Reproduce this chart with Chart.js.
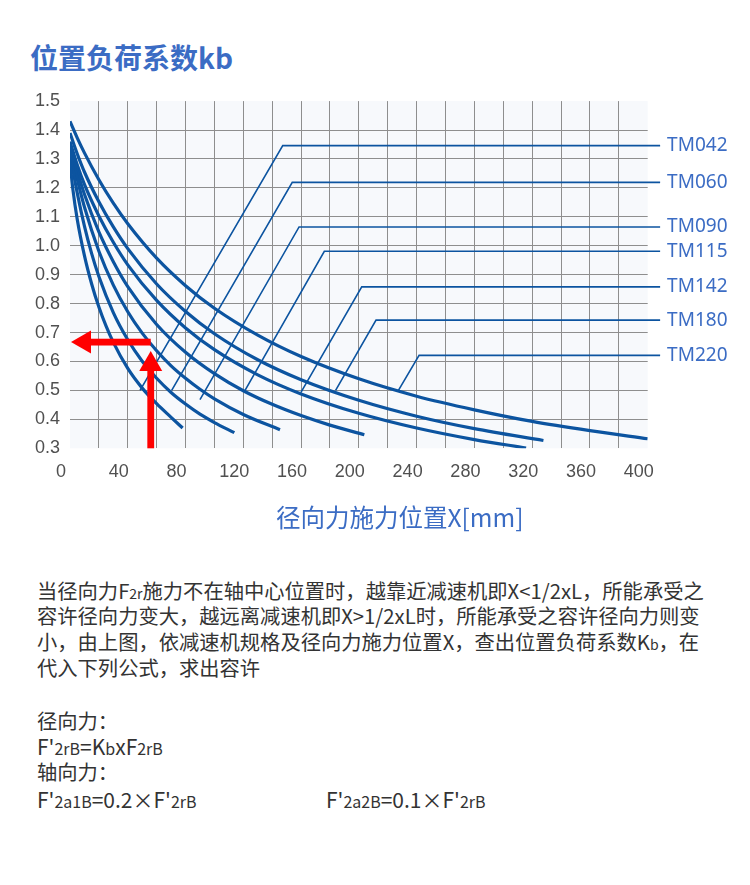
<!DOCTYPE html>
<html>
<head>
<meta charset="utf-8">
<script src="https://cdn.jsdelivr.net/npm/chart.js@4.4.0/dist/chart.umd.min.js"></script>
<style>
body { margin: 0; width: 750px; height: 885px; background: #fff; position: relative; overflow: hidden;
       font-family: "Noto Sans CJK SC", "Noto Sans", sans-serif; }
.t { position: absolute; white-space: nowrap; }
#title { left: 30px; top: 39px; font-size: 28px; font-weight: bold; color: #3b6cc4; line-height: 36px; }
#xtitle { left: 276px; top: 502px; font-size: 24.5px; color: #3b6cc4; line-height: 30px; }
.p { left: 37px; font-size: 20.3px; color: #333; line-height: 26px; }
.p small { font-size: 14px; }
.f { font-size: 21px; }
.f small { font-size: 16px; }
#chartBox { position: absolute; left: 0; top: 80px; width: 750px; height: 420px; }
</style>
</head>
<body>
<div class="t" id="title">位置负荷系数kb</div>
<div id="chartBox"><canvas id="kbChart" width="750" height="420"></canvas></div>
<div class="t" id="xtitle">径向力施力位置X[mm]</div>

<div class="t p" style="top:577px">当径向力F<small>2r</small>施力不在轴中心位置时，越靠近减速机即X&lt;1/2xL，所能承受之</div>
<div class="t p" style="top:602px">容许径向力变大，越远离减速机即X&gt;1/2xL时，所能承受之容许径向力则变</div>
<div class="t p" style="top:628px">小，由上图，依减速机规格及径向力施力位置X，查出位置负荷系数K<small>b</small>，在</div>
<div class="t p" style="top:654px">代入下列公式，求出容许</div>

<div class="t p" style="top:707px">径向力：</div>
<div class="t p f" style="top:733px">F'<small>2rB</small>=K<small>b</small>xF<small>2rB</small></div>
<div class="t p" style="top:758px">轴向力：</div>
<div class="t p f" style="top:786px">F'<small>2a1B</small>=0.2×F'<small>2rB</small></div>
<div class="t p f" style="top:786px;left:326px">F'<small>2a2B</small>=0.1×F'<small>2rB</small></div>

<script>
// gearbox sizes, smallest to largest curve
const models = ['TM042', 'TM060', 'TM090', 'TM115', 'TM142', 'TM180', 'TM220'];

// curves: X [mm] -> Kb
const xTM042 = [0, 2, 5, 10, 15, 20, 25, 30, 40, 50, 60, 70, 78];
const yTM042 = [1.29, 1.195, 1.092, 0.966, 0.868, 0.788, 0.722, 0.666, 0.576, 0.508, 0.454, 0.407, 0.370];
const xTM060 = [0, 2, 5, 10, 15, 20, 30, 40, 50, 60, 70, 80, 90, 100, 113.8];
const yTM060 = [1.325, 1.264, 1.183, 1.068, 0.973, 0.894, 0.769, 0.675, 0.601, 0.542, 0.493, 0.453, 0.418, 0.389, 0.354];
const xTM090 = [0, 5, 10, 20, 30, 40, 50, 60, 70, 80, 90, 100, 120, 145.4];
const yTM090 = [1.344, 1.231, 1.134, 0.981, 0.864, 0.772, 0.698, 0.637, 0.585, 0.542, 0.504, 0.471, 0.417, 0.364];
const xTM115 = [0, 5, 10, 20, 30, 40, 60, 80, 100, 120, 140, 160, 180, 203.8];
const yTM115 = [1.35, 1.258, 1.178, 1.048, 0.945, 0.859, 0.728, 0.632, 0.558, 0.499, 0.452, 0.413, 0.380, 0.347];
const xTM142 = [0, 5, 10, 20, 30, 40, 60, 80, 100, 130, 160, 200, 240, 280, 315.8];
const yTM142 = [1.36, 1.28, 1.212, 1.103, 1.012, 0.934, 0.811, 0.716, 0.641, 0.554, 0.488, 0.421, 0.370, 0.330, 0.301];
const xTM180 = [0, 5, 10, 20, 30, 40, 60, 80, 100, 130, 160, 200, 240, 280, 327.8];
const yTM180 = [1.39, 1.318, 1.255, 1.152, 1.065, 0.990, 0.868, 0.773, 0.696, 0.606, 0.537, 0.466, 0.411, 0.368, 0.327];
const xTM220 = [0, 5, 10, 20, 30, 40, 60, 80, 100, 130, 160, 200, 240, 280, 320, 360, 400];
const yTM220 = [1.430, 1.373, 1.321, 1.228, 1.147, 1.076, 0.957, 0.862, 0.784, 0.691, 0.617, 0.540, 0.480, 0.433, 0.393, 0.361, 0.333];

// label leader lines: foot on the curve, elbow, then flat out to the label
const leaderFootX = [48.5, 70.4, 90, 121.2, 160, 183.9, 227.4];
const leaderFootY = [0.50, 0.50, 0.468, 0.50, 0.494, 0.50, 0.50];
const leaderElbowX = [147.3, 153.9, 158.6, 176.1, 202, 211.9, 241.7];
const leaderLevel = [1.346, 1.219, 1.065, 0.981, 0.858, 0.743, 0.621];
const leaderEndX = 408.6;

// example reading (red arrows)
const arrowX = 55.9;
const arrowTipY = 0.636;
const arrowLevel = 0.667;

// axis ticks
const xTickLabels = [0, 40, 80, 120, 160, 200, 240, 280, 320, 360, 400];
const yTickLabels = ['0.3', '0.4', '0.5', '0.6', '0.7', '0.8', '0.9', '1.0', '1.1', '1.2', '1.3', '1.4', '1.5'];

const curveX = [xTM042, xTM060, xTM090, xTM115, xTM142, xTM180, xTM220];
const curveY = [yTM042, yTM060, yTM090, yTM115, yTM142, yTM180, yTM220];
const blue = '#0c54a0';

function toPoints(xs, ys) {
    return xs.map((x, i) => ({ x: x, y: ys[i] }));
}

let datasets = [];
models.forEach((m, i) => {
    datasets.push({
        label: m + ' leader',
        data: toPoints([leaderFootX[i], leaderElbowX[i], leaderEndX], [leaderFootY[i], leaderLevel[i], leaderLevel[i]]),
        borderColor: blue,
        borderWidth: 1.6,
        pointRadius: 0,
        tension: 0,
        clip: false,
    });
});
models.forEach((m, i) => {
    datasets.push({
        label: m,
        data: toPoints(curveX[i], curveY[i]),
        borderColor: blue,
        borderWidth: 3.2,
        pointRadius: 0,
        cubicInterpolationMode: 'monotone',
    });
});

const plotBg = {
    id: 'plotBg',
    beforeDraw(chart) {
        const a = chart.chartArea, c = chart.ctx;
        c.save();
        c.fillStyle = '#f7f9fc';
        c.fillRect(a.left, a.top, a.right - a.left, a.bottom - a.top);
        c.restore();
    }
};

const leaderLabels = {
    id: 'leaderLabels',
    afterDatasetsDraw(chart) {
        const x = chart.scales.x, y = chart.scales.y, c = chart.ctx;
        c.save();
        c.font = '19px "Noto Sans"';
        c.fillStyle = '#3b6cc4';
        c.textBaseline = 'middle';
        c.textAlign = 'left';
        models.forEach((m, i) => {
            c.fillText(m, x.getPixelForValue(leaderEndX) + 7, y.getPixelForValue(leaderLevel[i]));
        });
        c.restore();
    }
};

const redArrows = {
    id: 'redArrows',
    afterDatasetsDraw(chart) {
        const x = chart.scales.x, y = chart.scales.y, c = chart.ctx;
        const px = x.getPixelForValue(arrowX);
        const tip = y.getPixelForValue(arrowTipY);
        const hy = y.getPixelForValue(arrowLevel);
        const left = x.getPixelForValue(0) + 1;
        const bottom = chart.chartArea.bottom;
        c.save();
        c.fillStyle = '#ff0000';
        // up arrow
        c.fillRect(px - 3.4, tip + 19, 6.8, bottom - tip - 19);
        c.beginPath();
        c.moveTo(px, tip);
        c.lineTo(px - 11.5, tip + 20);
        c.lineTo(px + 11.5, tip + 20);
        c.closePath();
        c.fill();
        // left arrow
        c.fillRect(left + 19, hy - 3.4, px - left - 19, 6.8);
        c.beginPath();
        c.moveTo(left, hy);
        c.lineTo(left + 20, hy - 11.5);
        c.lineTo(left + 20, hy + 11.5);
        c.closePath();
        c.fill();
        c.restore();
    }
};

function edgeHidden(ctx) {
    const n = ctx.scale.ticks.length;
    if (ctx.index === 0 || ctx.index === n - 1) return 'rgba(0,0,0,0)';
    return '#8e8e8e';
}

new Chart(document.getElementById('kbChart'), {
    type: 'line',
    data: { datasets: datasets },
    options: {
        responsive: false,
        animation: false,
        devicePixelRatio: 1,
        layout: { padding: { left: 0, right: 102.3, top: 21.1, bottom: 11.7 } },
        plugins: { legend: { display: false }, tooltip: { enabled: false } },
        scales: {
            x: {
                type: 'linear',
                min: 0,
                max: 400,
                border: { display: false },
                grid: { color: edgeHidden, drawTicks: false, lineWidth: 1 },
                ticks: {
                    stepSize: 20,
                    autoSkip: false,
                    maxRotation: 0,
                    padding: 13,
                    labelOffset: -9,
                    color: '#505050',
                    font: { family: 'Liberation Sans', size: 18 },
                    callback: (v) => xTickLabels.includes(v) ? String(v) : ''
                },
                afterFit: (s) => { s.height = 40; }
            },
            y: {
                min: 0.3,
                max: 1.5,
                border: { display: false },
                grid: { color: edgeHidden, drawTicks: false, lineWidth: 1 },
                ticks: {
                    stepSize: 0.1,
                    padding: 10,
                    color: '#505050',
                    font: { family: 'Liberation Sans', size: 18 },
                    callback: (v, i) => yTickLabels[i]
                },
                afterFit: (s) => { s.width = 70; }
            }
        }
    },
    plugins: [plotBg, leaderLabels, redArrows]
});
</script>
</body>
</html>
